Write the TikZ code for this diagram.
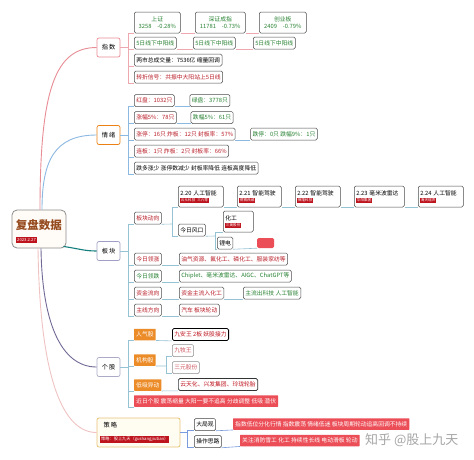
\documentclass[tikz,border=0pt]{standalone}
\usepackage{fontspec}
\setmainfont{Noto Sans CJK SC}
\usetikzlibrary{positioning}

\definecolor{txtred}{RGB}{185,30,40}
\definecolor{txtgreen}{RGB}{40,130,50}
\definecolor{txtrose}{RGB}{205,85,95}
\definecolor{tagred}{RGB}{190,20,30}
\definecolor{boxred}{RGB}{236,78,88}
\definecolor{boxorange}{RGB}{236,140,40}
\definecolor{lnpink}{RGB}{232,140,150}
\definecolor{lnblue}{RGB}{140,185,225}
\definecolor{lnteal}{RGB}{20,125,125}
\definecolor{lnpurple}{RGB}{115,105,150}
\definecolor{lnrose}{RGB}{240,195,195}
\definecolor{lnsoft}{RGB}{150,195,212}
\definecolor{titlebrown}{RGB}{150,75,30}
\definecolor{clborder}{RGB}{232,195,120}
\definecolor{clfill}{RGB}{255,252,242}

\newcommand{\tg}[1]{{\setlength{\fboxsep}{0.7pt}\colorbox{tagred}{\textcolor{white}{\fontsize{3.6}{4}\selectfont #1}}}}

\tikzset{
	box/.style={draw=black!70, rounded corners=1.5pt, line width=0.5pt, fill=white,
			font=\fontsize{5.8}{6.6}\selectfont, inner sep=2pt, minimum height=12pt, anchor=west},
	hdbox/.style={box, align=center, minimum height=21pt, minimum width=46pt},
	daybox/.style={box, align=left, minimum height=21pt, text width=#1},
	rtxt/.style={text=txtred},
	gtxt/.style={text=txtgreen},
	obox/.style={fill=boxorange, text=white, rounded corners=0.5pt,
			font=\fontsize{5.8}{6.6}\selectfont, inner sep=2pt, minimum height=11.5pt, anchor=west},
	rbox/.style={obox, fill=boxred},
	tagn/.style={fill=tagred, text=white, font=\fontsize{4.2}{4.6}\selectfont, inner sep=1pt, anchor=west},
	topic/.style={draw, rounded corners=2pt, line width=0.7pt, minimum width=23pt,
			minimum height=19pt, font=\fontsize{6.2}{7}\selectfont, fill=white},
	ln/.style={line width=0.6pt, draw=lnsoft},
	zsln/.style={ln, draw=lnpink!75},
	qxln/.style={ln, draw=lnblue},
}

\begin{document}
\begin{tikzpicture}[x=1pt, y=-1pt]
	\useasboundingbox[fill=white] (0,0) rectangle (474,459);

	% centre node
	\node[draw=black!45, rounded corners=5pt, line width=0.8pt, fill=orange!3,
		minimum width=54pt, minimum height=38pt] (cnt) at (39,229) {};
	\node[text=titlebrown, font=\fontsize{11.5}{12}\selectfont\bfseries] (cntt) at (39,225.5) {复盘数据};
	\node[tagn] (cntd) at (16,240) {2023.2.27};

	% branch topics
	\node[topic, draw=lnpink] (zs) at (108.5,47.5) {指\,数};
	\node[topic, draw=orange!70!brown] (qx) at (108.5,135) {情\,绪};
	\node[topic, draw=blue!25!gray!60] (bk) at (108.5,251) {板\,块};
	\node[topic, draw=blue!20!gray!55] (gg) at (108.5,367) {个\,股};
	\node[draw=clborder, fill=clfill, rounded corners=2pt, line width=0.8pt,
		minimum width=83pt, minimum height=29pt] (cl) at (138.5,432.5) {};
	\node[font=\fontsize{6.2}{7}\selectfont, anchor=west] (clt) at (100,425) {策\,略};
	\node[tagn] (cltag) at (100,439.5) {策略：股上九天（gushangjiutian）};

	\draw[lnpink, line width=0.9pt] ([xshift=1pt]cnt.north) .. controls (40,90) and (55,47.5) .. (zs.west);
	\draw[lnblue, line width=0.9pt] ([xshift=3pt]cnt.north) .. controls (42,160) and (55,135) .. (qx.west);
	\draw[lnteal, line width=1.1pt] ([xshift=-3pt,yshift=2pt]cnt.south east) .. controls (80,249) and (85,251) .. (bk.west);
	\draw[lnpurple, line width=0.9pt] ([xshift=2pt]cnt.south) .. controls (42,320) and (60,367) .. (gg.west);
	\draw[lnrose, line width=0.9pt] ([xshift=-1pt]cnt.south) .. controls (40,385) and (65,432.5) .. (cl.west);

	% index
	\node[hdbox, gtxt] (zs1) at (134,22.5) {上证\\3258\quad -0.28\%};
	\node[hdbox, gtxt, minimum width=50pt] (zs2) at (195,22.5) {深证成指\\11781\quad -0.73\%};
	\node[hdbox, gtxt, minimum width=47pt] (zs3) at (259,22.5) {创业板\\2409\quad -0.79\%};
	\node[box, gtxt] (zs4) at (134,43) {5日线下中阳线};
	\node[box, gtxt] (zs5) at (193,43) {5日线下中阳线};
	\node[box, gtxt] (zs6) at (253,43) {5日线下中阳线};
	\node[box] (zs7) at (134,60) {两市总成交量：7536亿\ 缩量回调};
	\node[box, rtxt] (zs8) at (134,77) {转折信号：共振中大阳站上5日线};

	\coordinate (zsj) at (128,47.5);
	\draw[zsln] (zs.east) -- (zsj);
	\foreach \c in {zs1,zs4,zs7,zs8}
		\draw[zsln] (zsj) |- (\c.south west);
	\draw[zsln] (zs1.south east) -- (zs2.south west) (zs2.south east) -- (zs3.south west);
	\draw[zsln] (zs4.south east) -- (zs5.south west) (zs5.south east) -- (zs6.south west);

	% mood
	\node[box, rtxt] (qx1) at (134,100.5) {红盘：1032只};
	\node[box, gtxt, right=15pt of qx1] (qx2) {绿盘：3778只};
	\node[box, rtxt] (qx3) at (134,117.5) {涨幅5\%：78只};
	\node[box, gtxt, right=14pt of qx3] (qx4) {跌幅5\%：61只};
	\node[box, rtxt] (qx5) at (134,134) {涨停：16只\ 炸板：12只\ 封板率：57\%};
	\node[box, gtxt, right=15pt of qx5] (qx6) {跌停：0只\ 跌幅9\%：1只};
	\node[box, rtxt] (qx7) at (134,151) {连板：1只\ 炸板：2只\ 封板率：66\%};
	\node[box] (qx8) at (134,168) {跌多涨少\ 涨停数减少\ 封板率降低\ 连板高度降低};

	\coordinate (qxj) at (128,135);
	\draw[qxln] (qx.east) -- (qxj);
	\foreach \c in {qx1,qx3,qx5,qx7,qx8}
		\draw[qxln] (qxj) |- (\c.south west);
	\foreach \a/\b in {qx1/qx2,qx3/qx4,qx5/qx6}
		\draw[qxln] (\a.south east) -- (\b.south west);

	% sectors
	\node[box, rtxt] (bk1) at (134,218) {板块动向};
	\node[daybox=41pt] (t20) at (178,196.5) {2.20 人工智能\\\tg{云从科技 三六零}};
	\node[daybox=40pt] (t21) at (237,196.5) {2.21 智能驾驶\\\tg{德赛西威}};
	\node[daybox=41pt] (t22) at (295,196.5) {2.22 智能驾驶\\\tg{保隆科技}};
	\node[daybox=46pt] (t23) at (354,196.5) {2.23 毫米波雷达\\\tg{华阳集团}};
	\node[daybox=41pt] (t24) at (418,196.5) {2.24 人工智能\\\tg{海天瑞声}};
	\node[box] (bk2) at (178,230) {今日风口};
	\node[daybox=26pt] (hg) at (223,221.5) {化工\\\tg{三美股份}};
	\node[box] (ld) at (217,243) {锂电};
	\node[fill=boxred, rounded corners=1.5pt, minimum width=17pt, minimum height=10pt,
		inner sep=0pt, anchor=west] (blk) at (257,243) {};
	\node[box, rtxt] (bk3) at (134,259) {今日领涨};
	\node[box, rtxt] (bk3a) at (179,259) {油气资源、氟化工、磷化工、服装家纺等};
	\node[box, gtxt] (bk4) at (134,276) {今日领跌};
	\node[box, gtxt] (bk4a) at (179,276) {Chiplet、毫米波雷达、AIGC、ChatGPT等};
	\node[box, rtxt] (bk5) at (134,293) {资金流向};
	\node[box, rtxt] (bk5a) at (179,293) {资金主流入化工};
	\node[box, gtxt] (bk5b) at (243,293) {主流出科技\ 人工智能};
	\node[box, rtxt] (bk6) at (134,310) {主线方向};
	\node[box, rtxt] (bk6a) at (179,310) {汽车\ 板块轮动};

	\coordinate (bkj) at (128,251);
	\coordinate (bk1j) at (172,224);
	\coordinate (bk2j) at (215,236);
	\draw[ln] (bk.east) -- (bkj);
	\foreach \c in {bk1,bk3,bk4,bk5,bk6}
		\draw[ln] (bkj) |- (\c.south west);
	\draw[ln] (bk1.south east) -- (bk1j);
	\draw[ln] (bk1j) |- (t20.south west) (bk1j) |- (bk2.south west);
	\foreach \a/\b in {t20/t21,t21/t22,t22/t23,t23/t24}
		\draw[ln] (\a.south east) -- (\b.south west);
	\draw[ln] (bk2.south east) -- (bk2j);
	\draw[ln] (bk2j) |- (hg.south west) (bk2j) |- (ld.south west);
	\draw[ln] (ld.south east) -- (blk.south west);
	\foreach \a/\b in {bk3/bk3a,bk4/bk4a,bk5/bk5a,bk5a/bk5b,bk6/bk6a}
		\draw[ln] (\a.south east) -- (\b.south west);

	% stocks
	\node[obox] (gg1) at (134,334.5) {人气股};
	\node[box, text=tagred, draw=black, line width=0.8pt] (gg1a) at (172,334.5) {九安王\ 2板\ 妖股接力};
	\node[obox] (gg2) at (134,360) {机构股};
	\node[box, text=txtrose, draw=black!45] (gg2a) at (172,350.5) {九牧王};
	\node[box, text=txtrose, draw=black!45] (gg2b) at (172,367.5) {三元股份};
	\node[obox] (gg3) at (134,385) {低吸异动};
	\node[box, text=tagred, draw=black!80, line width=0.7pt] (gg3a) at (178,384.5) {云天化、兴发集团、玲珑轮胎};
	\node[rbox] (gg4) at (134,401) {近日个股\ 震荡缩量\ 大阳一要不追高\ 分歧调整\ 低吸\ 潜伏};

	\coordinate (ggj) at (128,367);
	\coordinate (gg2j) at (166,366);
	\draw[ln] (gg.east) -- (ggj);
	\foreach \c in {gg1,gg2,gg3,gg4}
		\draw[ln] (ggj) |- (\c.south west);
	\draw[ln] (gg2.south east) -- (gg2j);
	\draw[ln] (gg2j) |- (gg2a.south west) (gg2j) |- (gg2b.south west);
	\draw[ln] (gg1.south east) -- (gg1a.south west) (gg3.south east) -- (gg3a.south west);

	% strategy
	\node[box, draw=black!75] (cl1) at (194,424.5) {大局观};
	\node[box, draw=black!75] (cl2) at (194,441.5) {操作思路};
	\node[rbox] (cl1a) at (233,424) {指数低位分化行情\ 指数震荡\ 情绪低迷\ 板块周期轮动追高回调不持续};
	\node[rbox] (cl2a) at (240,440.5) {关注消防雪工\ 化工\ 持续性长线\ 电动滑板\ 轮动};

	\coordinate (clj) at (187,432.5);
	\draw[ln, draw=lnsoft!80!blue] (cl.east) -- (clj);
	\draw[ln, draw=lnsoft!80!blue] (clj) |- (cl1.south west) (clj) |- (cl2.south west);
	\draw[ln, draw=lnsoft!80!blue] (cl1.south east) -- (cl1a.south west) (cl2.south east) -- (cl2a.south west);

	% watermark
	\node[text=black!35, font=\fontsize{13}{14}\selectfont, anchor=west, inner sep=0pt] (wm) at (365,440) {知乎\ @股上九天};

\end{tikzpicture}
\end{document}
